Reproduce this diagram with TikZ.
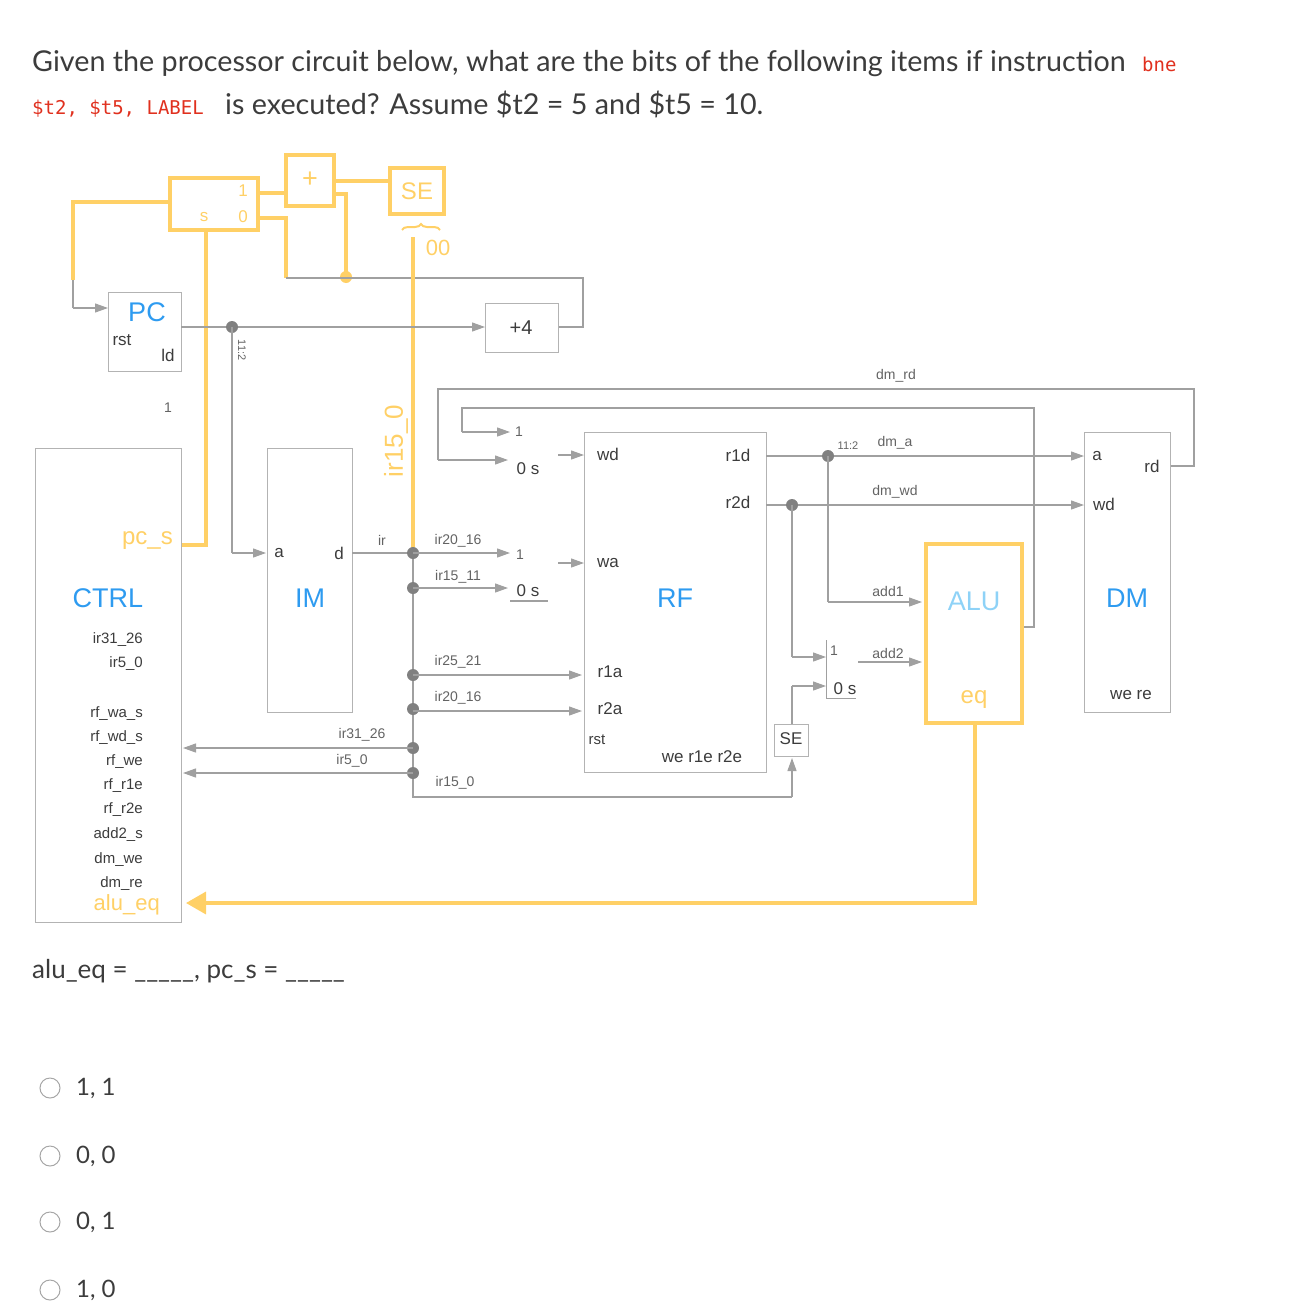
\documentclass[tikz,border=0pt]{standalone}
\usepackage{fontspec}
\setmainfont{Lato}
\newfontfamily\dgf{Liberation Sans}
\newfontfamily\codef{DejaVu Sans Mono}
\usetikzlibrary{arrows.meta,decorations.pathreplacing}
\definecolor{yel}{HTML}{FFD066}
\definecolor{wire}{HTML}{A0A0A0}
\definecolor{blu}{HTML}{2E9BF0}
\definecolor{lblu}{HTML}{8ED2F7}
\definecolor{redc}{HTML}{E0301E}
\definecolor{txt}{HTML}{3C3C3C}
\begin{document}
\begin{tikzpicture}[x=1pt,y=-1pt,
 gwire/.style={draw=wire,line width=1.2pt},
 ywire/.style={draw=yel,line width=3.5pt},
 ar/.style={-{Triangle[length=13pt,width=9pt]},draw=wire,line width=1.2pt},
 blk/.style={draw=wire!80,line width=1pt},
 ybox/.style={draw=yel,line width=3.5pt},
 lb/.style={font=\dgf\fontsize{17}{17}\selectfont,text=txt,inner sep=0pt},
 sl/.style={font=\dgf\fontsize{14}{14}\selectfont,text=txt!80,inner sep=0pt},
 big/.style={font=\dgf\fontsize{27}{27}\selectfont,inner sep=0pt},
 dot/.style={circle,fill=#1,inner sep=0pt,minimum size=12pt},
 q/.style={font=\fontsize{28.7}{32}\selectfont,text=txt,inner sep=0pt,anchor=base west},
 cd/.style={font=\codef\fontsize{19}{19}\selectfont,text=redc,inner sep=0pt,anchor=base west}]
\useasboundingbox (0,0) rectangle (1296,1316);
% question
\node[q] (q1) at (32,72) {Given the processor circuit below, what are the bits of the following items if instruction};
\node[cd] (c1) at (1142,72) {bne};
\node[cd] (c2) at (32,115) {\$t2, \$t5, LABEL};
\node[q] (q2) at (225,115) {is executed? Assume \$t2 = 5 and \$t5 = 10.};
% top mux, plus, SE
\draw[ybox] (170,178) rectangle (258,230);
\node[lb,text=yel] (m1) at (243,191) {1};
\node[lb,text=yel] (ms) at (204,217) {s};
\node[lb,text=yel] (m0) at (243,217) {0};
\draw[ybox] (286,155) rectangle (334,206);
\node[big,text=yel] (plus) at (310,180) {+};
\draw[ybox] (390,168) rectangle (444,214);
\node[big,text=yel,font=\dgf\fontsize{24}{24}\selectfont] (se1) at (417,191) {SE};
\draw[yel,line width=2pt,decorate,decoration={brace,amplitude=6pt,mirror}] (440,230) -- (402,230);
\node[big,text=yel,font=\dgf\fontsize{22}{22}\selectfont] (zz) at (438,248) {00};
\draw[ywire] (170,202) -- (73,202) -- (73,280);
\draw[gwire] (73,280) -- (73,308);
\draw[ar] (73,308) -- (108,308);
\draw[ywire] (258,193) -- (286,193);
\draw[ywire] (334,181) -- (390,181);
\draw[ywire] (334,194) -- (346,194) -- (346,277);
\draw[ywire] (258,218) -- (286,218) -- (286,278);
\node[dot=yel] (yd) at (346,277) {};
\draw[gwire] (286,278) -- (583,278) -- (583,327) -- (558,327);
\draw[ywire] (206,230) -- (206,545) -- (182,545);
\draw[ywire] (413,237) -- (413,553);
\node[font=\dgf\fontsize{26}{26}\selectfont,text=yel,rotate=90,inner sep=0pt] (ir15) at (396,441) {ir15\_0};
% PC
\draw[blk] (108,292) rectangle (181,371);
\node[big,text=blu] (pc) at (147,312) {PC};
\node[lb] (rst) at (122,340) {rst};
\node[lb] (ld) at (168,355) {ld};
\node[sl] (one) at (168,408) {1};
\draw[blk] (485,303) rectangle (558,352);
\node[lb,font=\dgf\fontsize{20}{20}\selectfont] (p4) at (521,328) {+4};
\draw[ar] (181,327) -- (485,327);
\node[dot=gray] (pd) at (232,327) {};
\draw[gwire] (232,327) -- (232,553);
\draw[ar] (232,553) -- (266,553);
\node[sl,rotate=-90,font=\dgf\fontsize{11}{11}\selectfont] (b112) at (242,350) {11:2};
% CTRL
\draw[blk] (35,448) rectangle (181,922);
\node[lb,text=yel,font=\dgf\fontsize{24}{24}\selectfont,anchor=east] (pcs) at (173,541) {pc\_s};
\node[big,text=blu] (ctrl) at (108,598) {CTRL};
\foreach \t/\yy/\n in {ir31\_26/640/c1,ir5\_0/664/c2,rf\_wa\_s/714/c3,rf\_wd\_s/738/c4,rf\_we/762/c5,rf\_r1e/786/c6,rf\_r2e/810/c7,add2\_s/835/c8,dm\_we/860/c9,dm\_re/884/c10}
  \node[lb,anchor=east,font=\dgf\fontsize{15}{15}\selectfont] (\n) at (143,\yy) {\t};
\node[lb,text=yel,font=\dgf\fontsize{22}{22}\selectfont,anchor=east] (aeq) at (160,905) {alu\_eq};
% IM
\draw[blk] (267,448) rectangle (352,712);
\node[lb] (ia) at (279,553) {a};
\node[lb] (id) at (339,553) {d};
\node[big,text=blu] (im) at (310,598) {IM};
\draw[gwire] (352,553) -- (413,553);
\node[sl] (irl) at (382,540) {ir};
\draw[gwire] (413,553) -- (413,797) -- (792,797);
\draw[ar] (792,797) -- (792,758);
\foreach \yy/\n in {553/d1,588/d2,675/d3,709/d4,748/d5,773/d6} \node[dot=gray] (\n) at (413,\yy) {};
\draw[ar] (413,553) -- (510,553);
\node[sl] at (458,541) {ir20\_16};
\node[sl] at (520,555) {1};
\draw[ar] (413,588) -- (508,588);
\node[sl] at (458,577) {ir15\_11};
\node[lb] at (528,591) {0 s};
\draw[gwire] (510,601) -- (548,601);
\draw[ar] (413,675) -- (582,675);
\node[sl] at (458,662) {ir25\_21};
\draw[ar] (413,711) -- (582,711);
\node[sl] at (458,698) {ir20\_16};
\draw[ar] (413,748) -- (183,748);
\node[sl] at (362,735) {ir31\_26};
\draw[ar] (413,773) -- (183,773);
\node[sl] at (352,761) {ir5\_0};
\node[sl] at (455,783) {ir15\_0};
% wd mux
\draw[gwire] (1022,627) -- (1034,627) -- (1034,408) -- (462,408) -- (462,432);
\draw[ar] (462,432) -- (510,432);
\draw[gwire] (1170,466) -- (1194,466) -- (1194,389) -- (438,389) -- (438,460);
\draw[ar] (438,460) -- (508,460);
\node[sl] at (519,432) {1};
\node[lb] at (528,469) {0 s};
\node[sl] at (896,376) {dm\_rd};
\draw[ar] (558,455) -- (584,455);
\draw[ar] (558,563) -- (584,563);
% RF
\draw[blk] (584,432) rectangle (766,772);
\node[lb] at (608,454) {wd};
\node[lb] at (738,455) {r1d};
\node[lb] at (738,502) {r2d};
\node[lb] at (608,563) {wa};
\node[big,text=blu] (rf) at (675,598) {RF};
\node[lb] at (610,672) {r1a};
\node[lb] at (610,709) {r2a};
\node[lb,font=\dgf\fontsize{15}{15}\selectfont] at (597,740) {rst};
\node[lb] at (702,757) {we r1e r2e};
% r1d / r2d
\draw[ar] (766,456) -- (1084,456);
\node[dot=gray] (r1dd) at (828,456) {};
\node[sl,font=\dgf\fontsize{11}{11}\selectfont] at (848,446) {11:2};
\node[sl] at (895,443) {dm\_a};
\draw[gwire] (828,456) -- (828,602);
\draw[ar] (828,602) -- (922,602);
\node[sl] at (888,591) {add1};
\draw[ar] (766,505) -- (1084,505);
\node[dot=gray] (r2dd) at (792,505) {};
\node[sl] at (895,492) {dm\_wd};
\draw[gwire] (792,505) -- (792,657);
\draw[ar] (792,657) -- (826,657);
% small mux
\draw[gwire,line width=0.8pt] (826,640) -- (826,698) -- (856,698);
\node[sl] at (834,651) {1};
\node[lb] at (845,689) {0 s};
\draw[ar] (858,662) -- (922,662);
\node[sl] at (888,653) {add2};
\draw[blk] (774,724) rectangle (808,756);
\node[lb] at (791,739) {SE};
\draw[gwire] (792,724) -- (792,686);
\draw[ar] (792,686) -- (826,686);
% ALU
\draw[ybox] (926,544) rectangle (1022,723);
\node[big,text=lblu] (alu) at (974,601) {ALU};
\node[big,text=yel,font=\dgf\fontsize{24}{24}\selectfont] (eq) at (974,700) {eq};
\draw[ywire,-{Triangle[length=20pt,width=22pt]}] (975,723) -- (975,903) -- (186,903);
% DM
\draw[blk] (1084,432) rectangle (1170,712);
\node[lb] at (1097,456) {a};
\node[lb] at (1152,466) {rd};
\node[lb] at (1104,504) {wd};
\node[big,text=blu] (dm) at (1127,598) {DM};
\node[lb] at (1131,695) {we re};
% answer
\node[q,font=\fontsize{26}{30}\selectfont] (ans) at (32,978) {alu\_eq = \_\_\_\_\_, pc\_s = \_\_\_\_\_};
\foreach \yy/\t/\n in {1088/{1, 1}/o1,1156/{0, 0}/o2,1222/{0, 1}/o3,1290/{1, 0}/o4}{
  \draw[draw=gray!70,line width=1pt] (50,\yy) circle (10);
  \node[font=\fontsize{24}{24}\selectfont,text=txt,anchor=west,inner sep=0pt] (\n) at (76,\yy) {\t};
}
\end{tikzpicture}
\end{document}
